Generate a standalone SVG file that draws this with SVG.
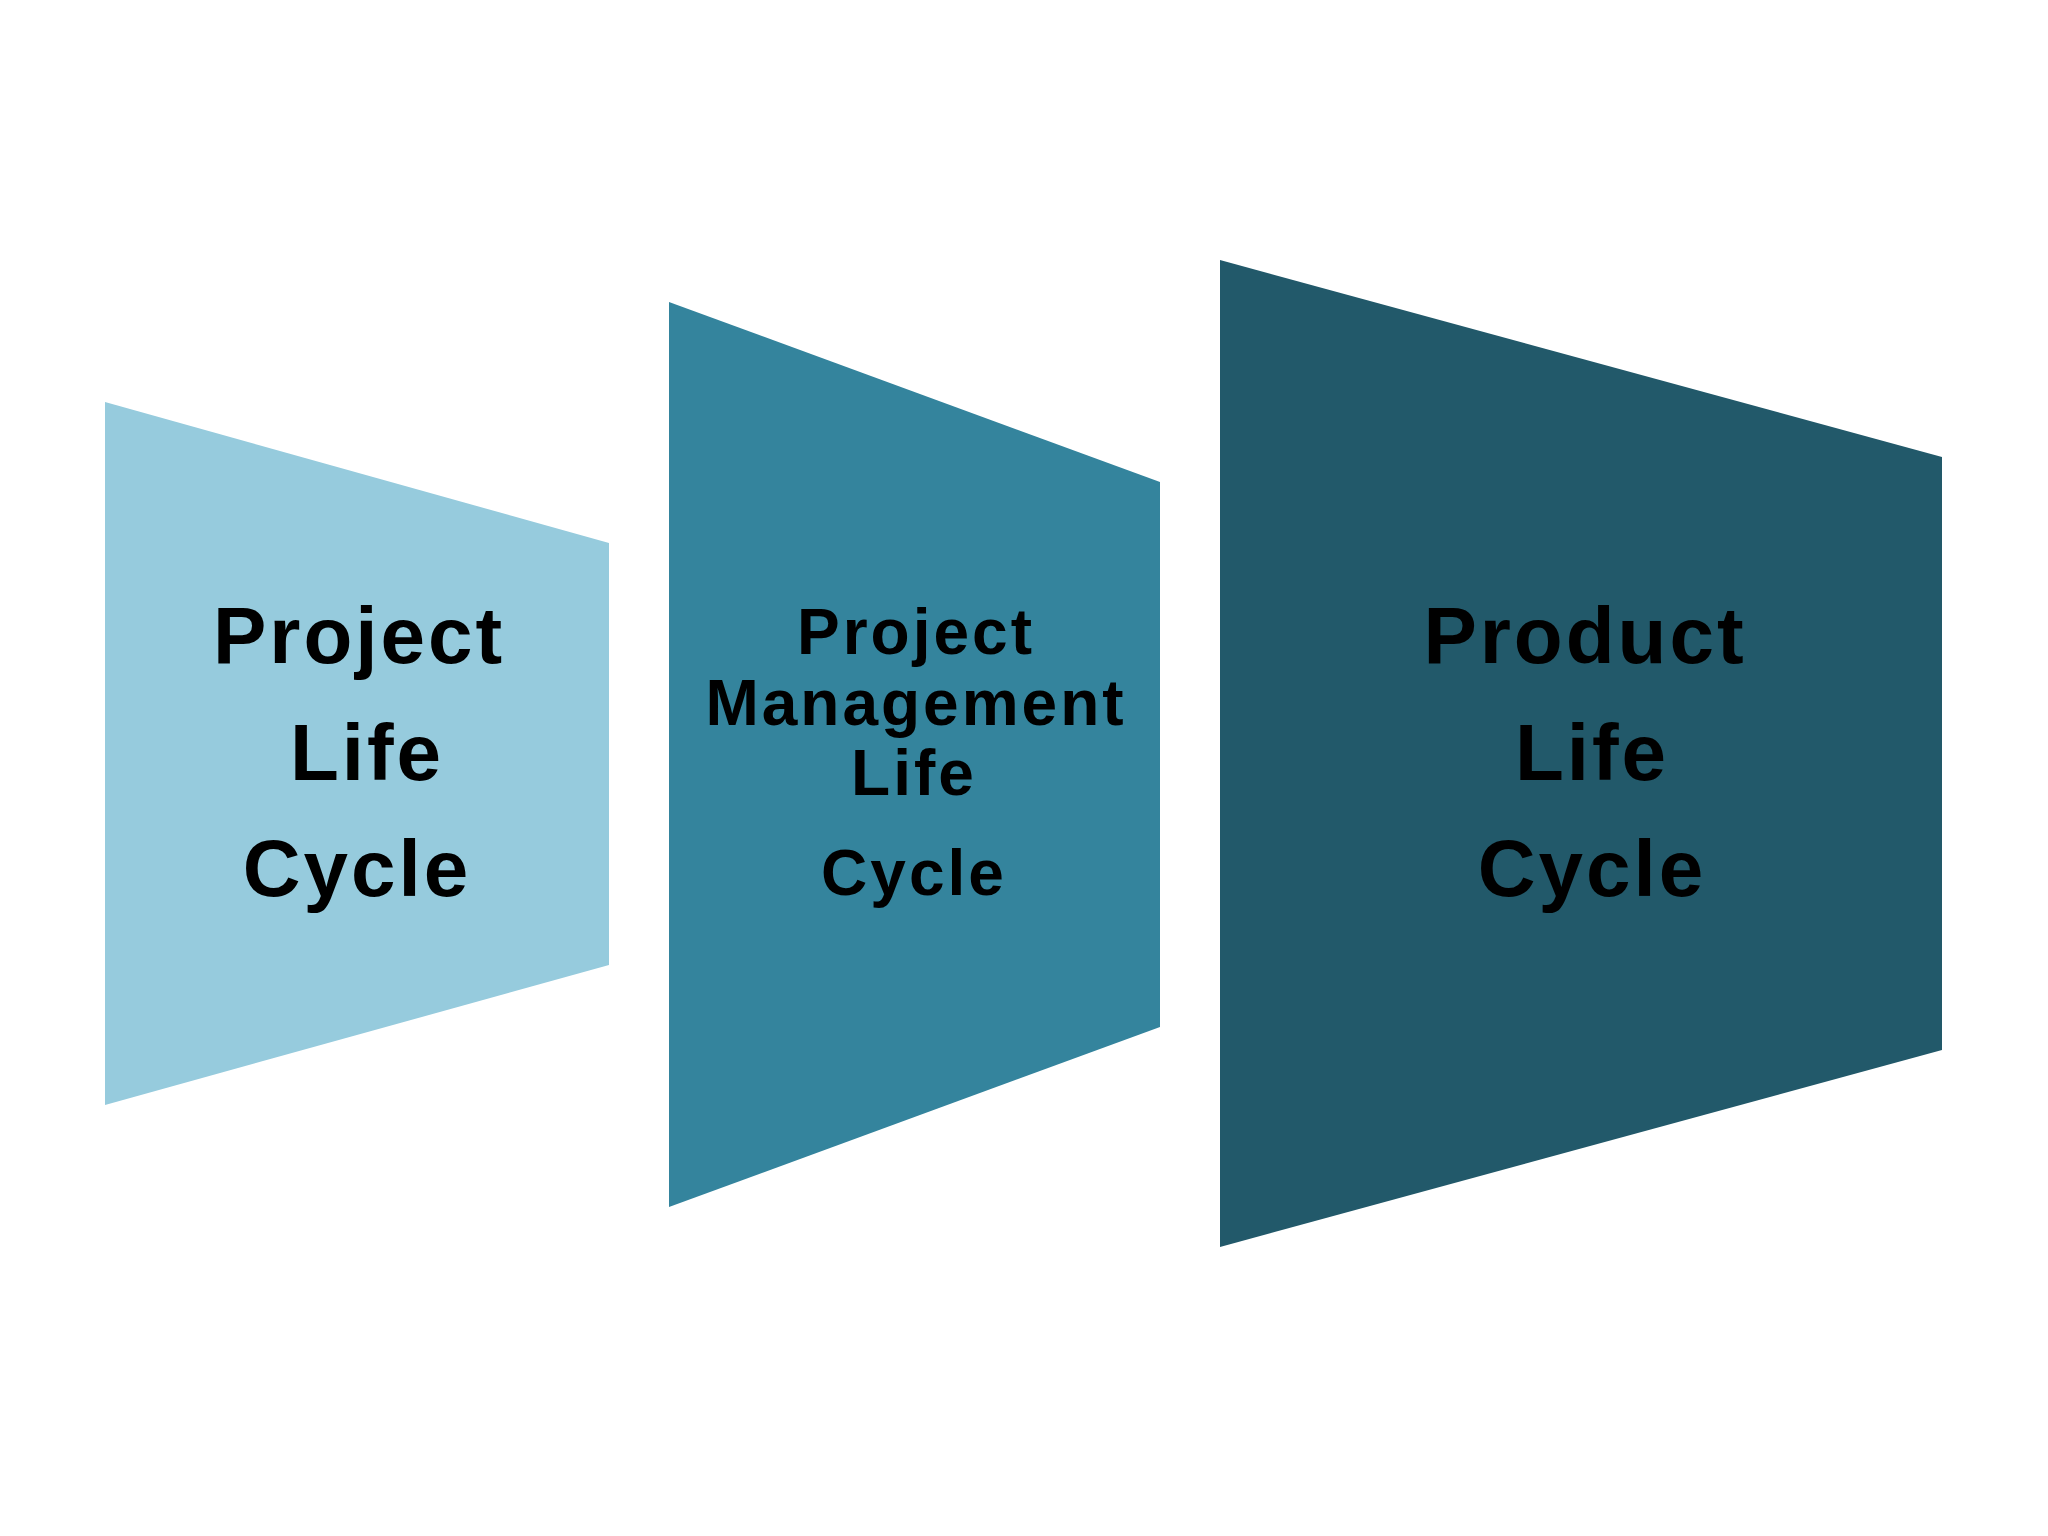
<svg xmlns="http://www.w3.org/2000/svg" width="2048" height="1536" viewBox="0 0 2048 1536">
<style>
text{font-family:"Liberation Sans",Arial,sans-serif;font-weight:bold;fill:#000;text-anchor:middle}
.big{font-size:80px;letter-spacing:3px}
.mid{font-size:64px;letter-spacing:3px}
</style>
<rect width="2048" height="1536" fill="#fff"/>
<g id="node1">
<polygon points="105,402 609,543 609,965 105,1105" fill="#96CBDD"/>
<text class="big" x="359" y="663">Project</text>
<text class="big" x="367" y="780">Life</text>
<text class="big" x="357" y="896">Cycle</text>
</g>
<g id="node2">
<polygon points="669,302 1160,482 1160,1027 669,1207" fill="#34849D"/>
<text class="mid" x="916" y="654">Project</text>
<text class="mid" x="916" y="725">Management</text>
<text class="mid" x="914" y="795">Life</text>
<text class="mid" x="914" y="895">Cycle</text>
</g>
<g id="node3">
<polygon points="1220,260 1942,457 1942,1050 1220,1247" fill="#22596A"/>
<text class="big" x="1585" y="663">Product</text>
<text class="big" x="1592" y="780">Life</text>
<text class="big" x="1592" y="896">Cycle</text>
</g>
<g id="connectors"/>
</svg>
